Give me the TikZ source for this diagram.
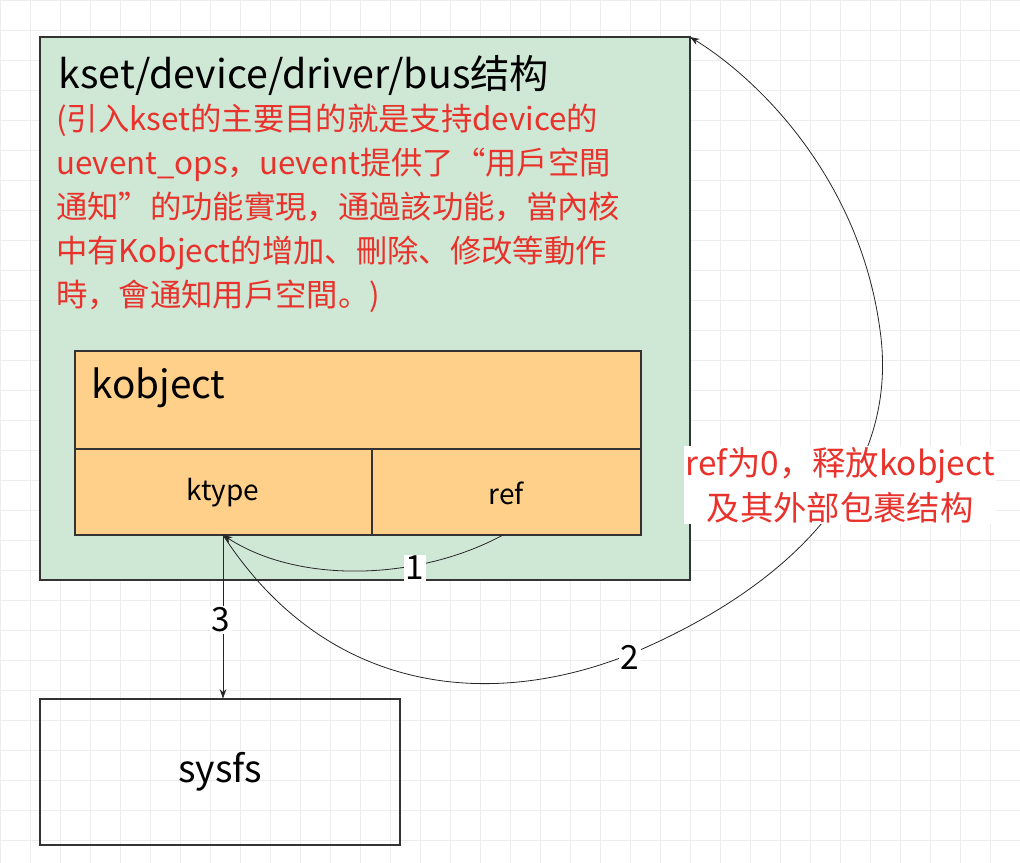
\documentclass[tikz,border=0pt]{standalone}
\usepackage{fontspec}
\setmainfont{Noto Sans CJK SC}
\usetikzlibrary{arrows.meta}
\definecolor{gfill}{HTML}{CFE8D6}
\definecolor{ofill}{HTML}{FFD08A}
\definecolor{tred}{HTML}{E8322B}
\tikzset{
  box/.style={draw=black!80, line width=0.8pt, inner sep=0pt},
  conn/.style={draw=black!85, line width=0.6pt, -{Stealth[length=7pt,width=5pt]}},
  lbl/.style={fill=white, inner sep=1pt, font=\fontsize{25}{26}\selectfont}
}
\begin{document}
\begin{tikzpicture}[x=0.75pt,y=-0.75pt]
\useasboundingbox (0,0) rectangle (1020,863);
\fill[white] (0,0) rectangle (1020,863);
\draw[black!7, line width=0.4pt, step=22.5pt] (0,0) grid (1020,863);
% green box
\draw[box, fill=gfill] (40,37) rectangle (690,580);
\coordinate (gtr) at (690,37);
\node[anchor=west, font=\fontsize{29.5}{32}\selectfont] at (54,75) {kset/device/driver/bus结构};
\node[anchor=north west, align=left, text=tred, inner sep=0pt, font=\fontsize{23.5}{33}\selectfont] at (56,104)
{(引入kset的主要目的就是支持device的\\uevent\_ops，uevent提供了“用戶空間\\通知”的功能實現，通過該功能，當內核\\中有Kobject的增加、刪除、修改等動作\\時，會通知用戶空間。)};
% kobject
\draw[box, fill=ofill] (75,351) rectangle (641,535);
\draw[box] (75,449) -- (641,449);
\draw[box] (372,449) -- (372,535);
\node[anchor=west, font=\fontsize{29}{30}\selectfont] at (87,388) {kobject};
\node[font=\fontsize{21}{22}\selectfont] (ktype) at (223,493) {ktype};
\node[font=\fontsize{21}{22}\selectfont] (ref) at (506,493) {ref};
\coordinate (kt) at (223,535);
\coordinate (rf) at (503,535);
% sysfs
\node[box, minimum width=270pt, minimum height=109.5pt, font=\fontsize{28}{30}\selectfont] (sysfs) at (220,772) {sysfs};
% arrows
\draw[conn] (rf) .. controls (420,580) and (300,585) .. (kt);
\node[lbl] at (415,568) {1};
\draw[conn] (kt) .. controls (330,700) and (500,710) .. (640,650)
  .. controls (800,580) and (900,470) .. (880,330)
  .. controls (860,180) and (760,80) .. (gtr);
\node[lbl] at (630,657) {2};
\draw[conn] (kt) -- (sysfs.north -| kt);
\node[lbl] at (221,620) {3};
\node[fill=white, text=tred, align=center, inner sep=1pt, font=\fontsize{25}{34}\selectfont] at (840,485) {ref为0，释放kobject\\及其外部包裹结构};
\end{tikzpicture}
\end{document}
